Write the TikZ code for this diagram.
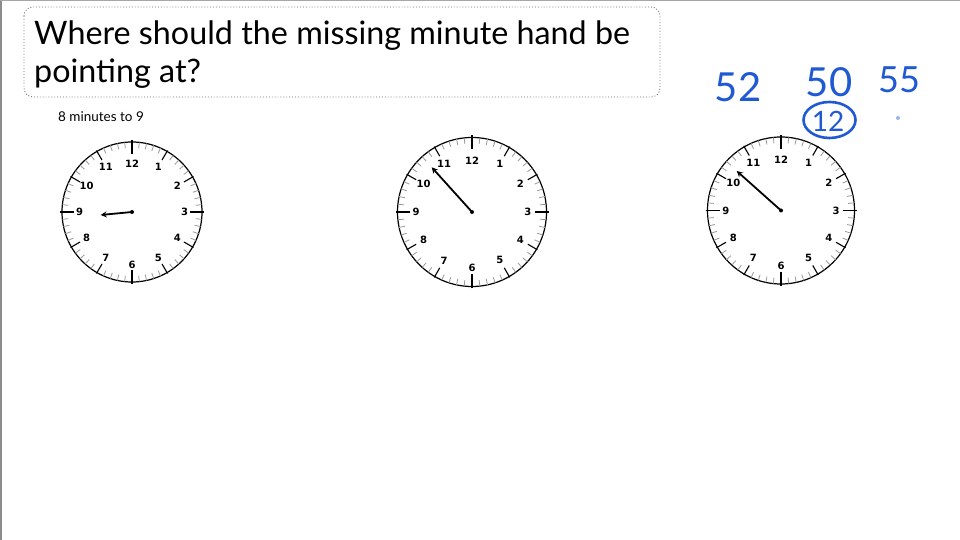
\documentclass[tikz,border=0pt]{standalone}
\usepackage{fontspec}
\setmainfont{Lato}
\newfontfamily\numfont{DejaVu Sans}
\usetikzlibrary{arrows.meta,shapes.geometric}
\definecolor{ink}{HTML}{1F5AD2}
\tikzset{
  minortick/.style={draw=black!40,line width=0.8pt},
  hourtick/.style={draw=black,line width=1.1pt},
  quartertick/.style={draw=black,line width=1.4pt},
  rim/.style={draw=black,line width=1.2pt},
  clocknum/.style={font=\numfont\bfseries\fontsize{10}{11}\selectfont,inner sep=0pt},
  hand/.style={draw=black,line width=1.8pt,-{Stealth[length=6pt,width=6pt]}},
  handwrite/.style={text=ink,font=\fontsize{40}{44}\selectfont,inner sep=0pt},
}
\newcommand\myclock[4]{% name, cx, cy, R
  \begin{scope}[shift={(#2,#3)}]
    \coordinate (#1-c) at (0,0);
    \draw[rim] (0,0) circle (#4);
    \foreach \m in {0,...,59}{
      \pgfmathtruncatemacro\r{mod(\m,5)}
      \pgfmathtruncatemacro\q{mod(\m,15)}
      \ifnum\r=0
        \ifnum\q=0
          \draw[quartertick] (90-6*\m:#4+2) -- (90-6*\m:#4-12);
        \else
          \draw[hourtick] (90-6*\m:#4+1) -- (90-6*\m:#4-10);
        \fi
      \else
        \draw[minortick] (90-6*\m:#4) -- (90-6*\m:#4-6);
      \fi
    }
    \foreach \h in {1,...,11}{
      \node[clocknum] (#1-n\h) at (90-30*\h:0.75*#4) {\h};
    }
    \node[clocknum] (#1-n12) at (90:0.69*#4) {12};
    \fill (0,0) circle (2pt);
  \end{scope}
}
\begin{document}
\begin{tikzpicture}[x=1pt,y=1pt]
\useasboundingbox (0,0) rectangle (960,540);
\fill[white] (0,0) rectangle (960,540);
\fill[black!45] (0,0) rectangle (1.5,540);
\fill[black!35] (0,538.5) rectangle (960,540);
% title box
\draw[black!55,dotted,line width=0.9pt,rounded corners=9pt] (24,533) rectangle (660,443);
\node[anchor=north west,align=left,inner sep=0pt,font=\fontsize{32.3}{38}\selectfont] (title) at (34,519)
  {Where should the missing minute hand be\\pointing at?};
\node[anchor=west,inner sep=0pt,font=\fontsize{13.5}{15}\selectfont] (caption) at (58,423) {8 minutes to 9};
% clocks
\myclock{ca}{132}{328}{70}
\myclock{cb}{472}{328}{74.5}
\myclock{cc}{781}{329.5}{73.5}
\coordinate (ta) at (100.7,325);
\coordinate (tb) at (431.7,372.7);
\coordinate (tc) at (736.7,369);
\draw[hand] (ca-c) -- (ta);
\draw[hand] (cb-c) -- (tb);
\draw[hand] (cc-c) -- (tc);
% handwriting
\node[handwrite] (w52) at (738,453) {52};
\node[handwrite] (w50) at (829,458) {50};
\node[handwrite,font=\fontsize{36}{40}\selectfont] (w55) at (899,460) {55};
\node[handwrite,font=\fontsize{28}{30}\selectfont] (w12) at (828,419) {12};
\draw[ink,line width=2.6pt] (829.5,420) ellipse (26 and 18);
\fill[ink!45] (898,422) circle (2pt);
\end{tikzpicture}
\end{document}
